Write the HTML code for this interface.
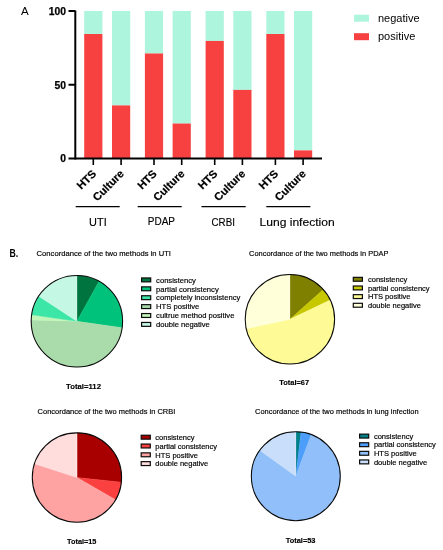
<!DOCTYPE html><html><head><meta charset="utf-8"><title>Figure</title>
<style>html,body{margin:0;padding:0;background:#fff}svg{display:block}text{font-family:"Liberation Sans",sans-serif;fill:#000}</style></head><body>
<svg width="443" height="550" viewBox="0 0 443 550">
<rect width="443" height="550" fill="#fff"/>
<rect x="84.2" y="11.0" width="18.2" height="23.01" fill="#adf5dd"/>
<rect x="84.2" y="34.01" width="18.2" height="124.49" fill="#f74141"/>
<rect x="112.0" y="11.0" width="18.2" height="94.40" fill="#adf5dd"/>
<rect x="112.0" y="105.40" width="18.2" height="53.10" fill="#f74141"/>
<rect x="144.9" y="11.0" width="18.2" height="42.48" fill="#adf5dd"/>
<rect x="144.9" y="53.48" width="18.2" height="105.02" fill="#f74141"/>
<rect x="172.6" y="11.0" width="18.2" height="112.54" fill="#adf5dd"/>
<rect x="172.6" y="123.54" width="18.2" height="34.96" fill="#f74141"/>
<rect x="205.6" y="11.0" width="18.2" height="29.94" fill="#adf5dd"/>
<rect x="205.6" y="40.94" width="18.2" height="117.56" fill="#f74141"/>
<rect x="233.3" y="11.0" width="18.2" height="78.91" fill="#adf5dd"/>
<rect x="233.3" y="89.91" width="18.2" height="68.59" fill="#f74141"/>
<rect x="266.3" y="11.0" width="18.2" height="23.01" fill="#adf5dd"/>
<rect x="266.3" y="34.01" width="18.2" height="124.49" fill="#f74141"/>
<rect x="294.0" y="11.0" width="18.2" height="139.39" fill="#adf5dd"/>
<rect x="294.0" y="150.39" width="18.2" height="8.11" fill="#f74141"/>
<path d="M75.3 10.4 V159.5" stroke="#000" stroke-width="2" fill="none"/>
<path d="M68.5 158.5 H322" stroke="#000" stroke-width="2" fill="none"/>
<path d="M68.5 11.0 H75" stroke="#000" stroke-width="2"/>
<path d="M68.5 84.75 H75" stroke="#000" stroke-width="2"/>
<path d="M93.3 158.5 V165.0" stroke="#000" stroke-width="1.6"/>
<path d="M121.1 158.5 V165.0" stroke="#000" stroke-width="1.6"/>
<path d="M154.0 158.5 V165.0" stroke="#000" stroke-width="1.6"/>
<path d="M181.7 158.5 V165.0" stroke="#000" stroke-width="1.6"/>
<path d="M214.7 158.5 V165.0" stroke="#000" stroke-width="1.6"/>
<path d="M242.4 158.5 V165.0" stroke="#000" stroke-width="1.6"/>
<path d="M275.4 158.5 V165.0" stroke="#000" stroke-width="1.6"/>
<path d="M303.1 158.5 V165.0" stroke="#000" stroke-width="1.6"/>
<text x="65.9" y="14.7" font-size="10.3" font-weight="bold" text-anchor="end" stroke="#000" stroke-width="0.25">100</text>
<text x="65.9" y="88.5" font-size="10.3" font-weight="bold" text-anchor="end" stroke="#000" stroke-width="0.25">50</text>
<text x="65.9" y="162.2" font-size="10.3" font-weight="bold" text-anchor="end" stroke="#000" stroke-width="0.25">0</text>
<text x="21" y="15" font-size="11.5">A</text>
<text transform="translate(96.9 174.4) rotate(-45)" font-size="11.1" font-weight="bold" stroke="#000" stroke-width="0.2" text-anchor="end">HTS</text>
<text transform="translate(124.7 174.4) rotate(-45)" font-size="11.1" font-weight="bold" stroke="#000" stroke-width="0.2" text-anchor="end">Culture</text>
<text transform="translate(157.6 174.4) rotate(-45)" font-size="11.1" font-weight="bold" stroke="#000" stroke-width="0.2" text-anchor="end">HTS</text>
<text transform="translate(185.3 174.4) rotate(-45)" font-size="11.1" font-weight="bold" stroke="#000" stroke-width="0.2" text-anchor="end">Culture</text>
<text transform="translate(218.3 174.4) rotate(-45)" font-size="11.1" font-weight="bold" stroke="#000" stroke-width="0.2" text-anchor="end">HTS</text>
<text transform="translate(246.0 174.4) rotate(-45)" font-size="11.1" font-weight="bold" stroke="#000" stroke-width="0.2" text-anchor="end">Culture</text>
<text transform="translate(279.0 174.4) rotate(-45)" font-size="11.1" font-weight="bold" stroke="#000" stroke-width="0.2" text-anchor="end">HTS</text>
<text transform="translate(306.7 174.4) rotate(-45)" font-size="11.1" font-weight="bold" stroke="#000" stroke-width="0.2" text-anchor="end">Culture</text>
<path d="M75.7 206.6 H119.7" stroke="#000" stroke-width="1.4"/>
<text x="89.1" y="225.8" font-size="11.4" fill="#000" stroke="#000" stroke-width="0.15" textLength="17.6" lengthAdjust="spacingAndGlyphs">UTI</text>
<path d="M137.7 206.6 H181.7" stroke="#000" stroke-width="1.4"/>
<text x="147.8" y="224.6" font-size="11.4" fill="#000" stroke="#000" stroke-width="0.15" textLength="27.2" lengthAdjust="spacingAndGlyphs">PDAP</text>
<path d="M201.5 206.6 H245.7" stroke="#000" stroke-width="1.4"/>
<text x="211.5" y="225.8" font-size="11.4" fill="#000" stroke="#000" stroke-width="0.15" textLength="23.4" lengthAdjust="spacingAndGlyphs">CRBI</text>
<path d="M266.3 206.6 H310.4" stroke="#000" stroke-width="1.4"/>
<text x="259.5" y="225.8" font-size="11.4" fill="#000" stroke="#000" stroke-width="0.15" textLength="75.2" lengthAdjust="spacingAndGlyphs">Lung infection</text>
<rect x="354" y="14.7" width="15" height="7" fill="#adf5dd"/>
<rect x="354" y="33.2" width="15" height="7" fill="#f74141"/>
<text x="378" y="21.8" font-size="11">negative</text>
<text x="378" y="40.4" font-size="11">positive</text>
<path d="M76.9 321.3 L76.90 275.60 A45.7 45.7 0 0 1 99.06 281.33 Z" fill="#00743e" stroke="#00743e" stroke-width="0.4"/>
<path d="M76.9 321.3 L99.06 281.33 A45.7 45.7 0 0 1 122.16 327.66 Z" fill="#00c27a" stroke="#00c27a" stroke-width="0.4"/>
<path d="M76.9 321.3 L122.16 327.66 A45.7 45.7 0 0 1 31.22 320.02 Z" fill="#a9dcaa" stroke="#a9dcaa" stroke-width="0.4"/>
<path d="M76.9 321.3 L31.22 320.02 A45.7 45.7 0 0 1 31.66 314.86 Z" fill="#c2f5b9" stroke="#c2f5b9" stroke-width="0.4"/>
<path d="M76.9 321.3 L31.66 314.86 A45.7 45.7 0 0 1 38.75 296.14 Z" fill="#3ce6a6" stroke="#3ce6a6" stroke-width="0.4"/>
<path d="M76.9 321.3 L38.75 296.14 A45.7 45.7 0 0 1 76.90 275.60 Z" fill="#c4f7e4" stroke="#c4f7e4" stroke-width="0.4"/>
<path d="M76.75 320.3 V275.6" stroke="#fff" stroke-width="0.45" opacity="0.75"/>
<circle cx="76.9" cy="321.3" r="45.7" fill="none" stroke="#0a0a0a" stroke-width="1.05"/>
<rect x="141.60" y="277.95" width="9.1" height="3.9" fill="#00743e" stroke="#0c0c0c" stroke-width="1.2"/>
<text transform="translate(156.10 282.60) scale(0.9615 1)" font-size="7.94" stroke="#000" stroke-width="0.18">consistency</text>
<rect x="141.60" y="286.85" width="9.1" height="3.9" fill="#00c27a" stroke="#0c0c0c" stroke-width="1.2"/>
<text transform="translate(156.10 291.50) scale(0.9615 1)" font-size="7.94" stroke="#000" stroke-width="0.18">partial consistency</text>
<rect x="141.60" y="295.75" width="9.1" height="3.9" fill="#3ce6a6" stroke="#0c0c0c" stroke-width="1.2"/>
<text transform="translate(156.10 300.40) scale(0.9615 1)" font-size="7.94" stroke="#000" stroke-width="0.18">completely inconsistency</text>
<rect x="141.60" y="304.65" width="9.1" height="3.9" fill="#a9dcaa" stroke="#0c0c0c" stroke-width="1.2"/>
<text transform="translate(156.10 309.30) scale(0.9615 1)" font-size="7.94" stroke="#000" stroke-width="0.18">HTS positive</text>
<rect x="141.60" y="313.55" width="9.1" height="3.9" fill="#c2f5b9" stroke="#0c0c0c" stroke-width="1.2"/>
<text transform="translate(156.10 318.20) scale(0.9615 1)" font-size="7.94" stroke="#000" stroke-width="0.18">cultrue method positive</text>
<rect x="141.60" y="322.45" width="9.1" height="3.9" fill="#c4f7e4" stroke="#0c0c0c" stroke-width="1.2"/>
<text transform="translate(156.10 327.10) scale(0.9615 1)" font-size="7.94" stroke="#000" stroke-width="0.18">double negative</text>
<text x="9.4" y="256.9" font-size="10.4" font-weight="bold" textLength="8.7" lengthAdjust="spacingAndGlyphs">B.</text>
<text x="36.6" y="256.2" font-size="8.1" stroke="#000" stroke-width="0.18" textLength="134.4" lengthAdjust="spacingAndGlyphs">Concordance of the two methods in UTI</text>
<text x="66" y="388.5" font-size="8.1" font-weight="bold" stroke="#000" stroke-width="0.15" textLength="35.0" lengthAdjust="spacingAndGlyphs">Total=112</text>
<path d="M289.9 319.3 L289.90 274.60 A44.7 44.7 0 0 1 323.30 289.60 Z" fill="#7f7f00" stroke="#7f7f00" stroke-width="0.4"/>
<path d="M289.9 319.3 L323.30 289.60 A44.7 44.7 0 0 1 330.24 300.04 Z" fill="#c8c800" stroke="#c8c800" stroke-width="0.4"/>
<path d="M289.9 319.3 L330.24 300.04 A44.7 44.7 0 1 1 246.19 328.66 Z" fill="#fefb97" stroke="#fefb97" stroke-width="0.4"/>
<path d="M289.9 319.3 L246.19 328.66 A44.7 44.7 0 0 1 289.90 274.60 Z" fill="#ffffda" stroke="#ffffda" stroke-width="0.4"/>
<path d="M289.75 318.3 V274.6" stroke="#fff" stroke-width="0.45" opacity="0.75"/>
<circle cx="289.9" cy="319.3" r="44.7" fill="none" stroke="#0a0a0a" stroke-width="1.05"/>
<rect x="353.30" y="277.35" width="9.1" height="3.9" fill="#7f7f00" stroke="#0c0c0c" stroke-width="1.2"/>
<text transform="translate(368.00 282.00) scale(0.9615 1)" font-size="7.80" stroke="#000" stroke-width="0.18">consistency</text>
<rect x="353.30" y="286.00" width="9.1" height="3.9" fill="#c8c800" stroke="#0c0c0c" stroke-width="1.2"/>
<text transform="translate(368.00 290.65) scale(0.9615 1)" font-size="7.80" stroke="#000" stroke-width="0.18">partial consistency</text>
<rect x="353.30" y="294.65" width="9.1" height="3.9" fill="#fefb97" stroke="#0c0c0c" stroke-width="1.2"/>
<text transform="translate(368.00 299.30) scale(0.9615 1)" font-size="7.80" stroke="#000" stroke-width="0.18">HTS positive</text>
<rect x="353.30" y="303.30" width="9.1" height="3.9" fill="#ffffda" stroke="#0c0c0c" stroke-width="1.2"/>
<text transform="translate(368.00 307.95) scale(0.9615 1)" font-size="7.80" stroke="#000" stroke-width="0.18">double negative</text>
<text x="249" y="256.2" font-size="8.1" stroke="#000" stroke-width="0.18" textLength="139.5" lengthAdjust="spacingAndGlyphs">Concordance of the two methods in PDAP</text>
<text x="279.3" y="385.3" font-size="8.1" font-weight="bold" stroke="#000" stroke-width="0.15" textLength="29.8" lengthAdjust="spacingAndGlyphs">Total=67</text>
<path d="M76.95 477.5 L76.95 432.85 A44.65 44.65 0 0 1 121.36 482.17 Z" fill="#a80000" stroke="#a80000" stroke-width="0.4"/>
<path d="M76.95 477.5 L121.36 482.17 A44.65 44.65 0 0 1 115.62 499.82 Z" fill="#fb4040" stroke="#fb4040" stroke-width="0.4"/>
<path d="M76.95 477.5 L115.62 499.82 A44.65 44.65 0 0 1 34.49 463.70 Z" fill="#fea2a2" stroke="#fea2a2" stroke-width="0.4"/>
<path d="M76.95 477.5 L34.49 463.70 A44.65 44.65 0 0 1 76.95 432.85 Z" fill="#ffdddd" stroke="#ffdddd" stroke-width="0.4"/>
<path d="M76.8 476.5 V432.85" stroke="#fff" stroke-width="0.45" opacity="0.75"/>
<circle cx="76.95" cy="477.5" r="44.65" fill="none" stroke="#0a0a0a" stroke-width="1.05"/>
<rect x="141.20" y="435.25" width="9.1" height="3.9" fill="#a80000" stroke="#0c0c0c" stroke-width="1.2"/>
<text transform="translate(155.30 439.90) scale(0.9615 1)" font-size="7.82" stroke="#000" stroke-width="0.18">consistency</text>
<rect x="141.20" y="444.05" width="9.1" height="3.9" fill="#fb4040" stroke="#0c0c0c" stroke-width="1.2"/>
<text transform="translate(155.30 448.70) scale(0.9615 1)" font-size="7.82" stroke="#000" stroke-width="0.18">partial consistency</text>
<rect x="141.20" y="452.85" width="9.1" height="3.9" fill="#fea2a2" stroke="#0c0c0c" stroke-width="1.2"/>
<text transform="translate(155.30 457.50) scale(0.9615 1)" font-size="7.82" stroke="#000" stroke-width="0.18">HTS positive</text>
<rect x="141.20" y="461.65" width="9.1" height="3.9" fill="#ffdddd" stroke="#0c0c0c" stroke-width="1.2"/>
<text transform="translate(155.30 466.30) scale(0.9615 1)" font-size="7.82" stroke="#000" stroke-width="0.18">double negative</text>
<text x="37.6" y="414.2" font-size="8.1" stroke="#000" stroke-width="0.18" textLength="137.7" lengthAdjust="spacingAndGlyphs">Concordance of the two methods in CRBI</text>
<text x="67.1" y="543.7" font-size="8.1" font-weight="bold" stroke="#000" stroke-width="0.15" textLength="29.3" lengthAdjust="spacingAndGlyphs">Total=15</text>
<path d="M295.8 476.2 L295.80 431.75 A44.45 44.45 0 0 1 301.06 432.06 Z" fill="#008088" stroke="#008088" stroke-width="0.4"/>
<path d="M295.8 476.2 L301.06 432.06 A44.45 44.45 0 0 1 311.28 434.53 Z" fill="#4d9efa" stroke="#4d9efa" stroke-width="0.4"/>
<path d="M295.8 476.2 L311.28 434.53 A44.45 44.45 0 1 1 259.68 450.29 Z" fill="#90bffa" stroke="#90bffa" stroke-width="0.4"/>
<path d="M295.8 476.2 L259.68 450.29 A44.45 44.45 0 0 1 295.80 431.75 Z" fill="#c8defa" stroke="#c8defa" stroke-width="0.4"/>
<path d="M295.65000000000003 475.2 V431.75" stroke="#fff" stroke-width="0.45" opacity="0.75"/>
<circle cx="295.8" cy="476.2" r="44.45" fill="none" stroke="#0a0a0a" stroke-width="1.05"/>
<rect x="359.60" y="434.15" width="9.1" height="3.9" fill="#008088" stroke="#0c0c0c" stroke-width="1.2"/>
<text transform="translate(373.90 438.80) scale(0.9615 1)" font-size="7.85" stroke="#000" stroke-width="0.18">consistency</text>
<rect x="359.60" y="442.75" width="9.1" height="3.9" fill="#4d9efa" stroke="#0c0c0c" stroke-width="1.2"/>
<text transform="translate(373.90 447.40) scale(0.9615 1)" font-size="7.85" stroke="#000" stroke-width="0.18">partial consistency</text>
<rect x="359.60" y="451.35" width="9.1" height="3.9" fill="#90bffa" stroke="#0c0c0c" stroke-width="1.2"/>
<text transform="translate(373.90 456.00) scale(0.9615 1)" font-size="7.85" stroke="#000" stroke-width="0.18">HTS positive</text>
<rect x="359.60" y="459.95" width="9.1" height="3.9" fill="#c8defa" stroke="#0c0c0c" stroke-width="1.2"/>
<text transform="translate(373.90 464.60) scale(0.9615 1)" font-size="7.85" stroke="#000" stroke-width="0.18">double negative</text>
<text x="255" y="413.7" font-size="8.1" stroke="#000" stroke-width="0.18" textLength="163.6" lengthAdjust="spacingAndGlyphs">Concordance of the two methods in lung infection</text>
<text x="285.7" y="542.6" font-size="8.1" font-weight="bold" stroke="#000" stroke-width="0.15" textLength="29.8" lengthAdjust="spacingAndGlyphs">Total=53</text>
</svg></body></html>
